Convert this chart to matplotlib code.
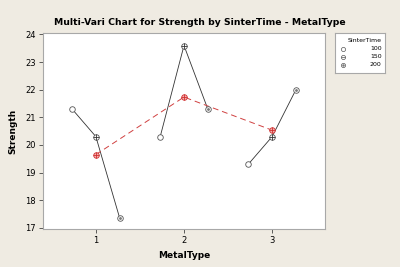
import matplotlib
matplotlib.use("Agg")
import matplotlib.pyplot as plt

# Multi-Vari chart: Strength by SinterTime within MetalType
metal_types = [1, 2, 3]
sinter_times = [100, 150, 200]
offsets = [-0.27, 0.0, 0.27]
# strength[i][j] -> metal type i, sinter time j
strength = [
    [21.3, 20.3, 17.35],
    [20.3, 23.6, 21.3],
    [19.3, 20.3, 22.0],
]
means = [sum(row) / len(row) for row in strength]

BG = "#EFEBE2"
FRAME = "#A8A8A8"

fig = plt.figure(figsize=(4.0, 2.67), dpi=100, facecolor=BG)
ax = fig.add_axes([0.1075, 0.142, 0.705, 0.734])
ax.set_facecolor("white")

# within-metal lines and sinter-time markers
for m, row in zip(metal_types, strength):
    xs = [m + o for o in offsets]
    ax.plot(xs, row, color="#333333", lw=0.6, zorder=2)
    for j, (x, y) in enumerate(zip(xs, row)):
        ax.plot(x, y, marker="o", ms=4, mfc="white", mec="#555555", mew=0.6, zorder=3)
        if j == 1:
            ax.plot(x, y, marker="+", ms=4, color="#333333", mew=0.6, zorder=4)
        elif j == 2:
            ax.plot(x, y, marker=".", ms=2, color="#777777", zorder=4)

# means connected by dashed red line
ax.plot(metal_types, means, color="#D04040", lw=0.7, ls=(0, (6, 4)), zorder=2)
ax.plot(metal_types, means, ls="none", marker="o", ms=4, mfc="#F4B0B0",
        mec="#D03030", mew=0.6, zorder=5)
ax.plot(metal_types, means, ls="none", marker="+", ms=4, color="#D03030",
        mew=0.6, zorder=6)

ax.set_xlim(0.4, 3.6)
ax.set_ylim(16.95, 24.05)
ax.set_xticks(metal_types)
ax.set_yticks(range(17, 25))
ax.tick_params(labelsize=6, length=3, width=0.6, color="#444444", pad=2)
for s in ax.spines.values():
    s.set_color(FRAME)
    s.set_linewidth(0.8)
ax.set_xlabel("MetalType", fontsize=6.5, fontweight="bold", labelpad=4)
ax.set_ylabel("Strength", fontsize=6.5, fontweight="bold", labelpad=6)
fig.text(0.5, 0.905, "Multi-Vari Chart for Strength by SinterTime - MetalType",
         ha="center", fontsize=6.7, fontweight="bold")

# legend box
lax = fig.add_axes([0.8375, 0.727, 0.125, 0.15])
lax.set_xlim(0, 1)
lax.set_ylim(0, 1)
lax.set_xticks([])
lax.set_yticks([])
for s in lax.spines.values():
    s.set_color(FRAME)
    s.set_linewidth(0.8)
lax.text(0.93, 0.82, "SinterTime", ha="right", va="center", fontsize=4.5)
for k, st in enumerate(sinter_times):
    yy = 0.6 - k * 0.2
    lax.plot(0.16, yy, marker="o", ms=3, mfc="white", mec="#555555", mew=0.5)
    if k == 1:
        lax.plot(0.16, yy, marker="_", ms=3, color="#555555", mew=0.5)
    elif k == 2:
        lax.plot(0.16, yy, marker=".", ms=1.5, color="#777777")
    lax.text(0.93, yy, str(st), ha="right", va="center", fontsize=4.5)

fig.savefig("out.png", dpi=100, facecolor=BG)
